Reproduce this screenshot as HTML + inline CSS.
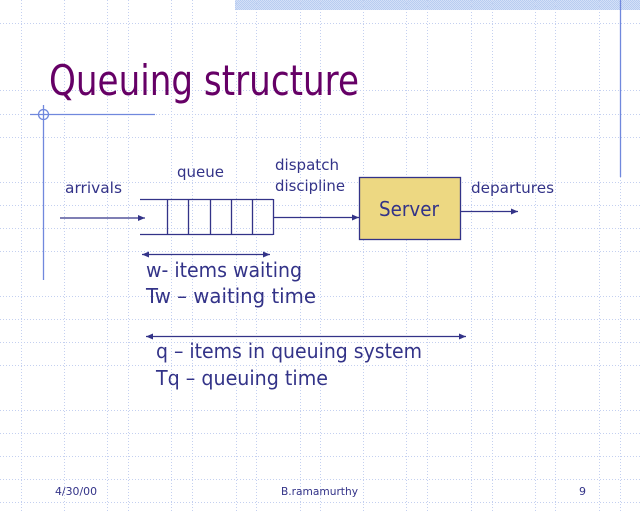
<!DOCTYPE html>
<html><head><meta charset="utf-8"><style>
html,body{margin:0;padding:0;background:#fff;}
svg{display:block;}
text{font-family:"DejaVu Sans","Liberation Sans",sans-serif;fill:#333388;}
</style></head><body>
<svg width="640" height="512" viewBox="0 0 640 512" xmlns="http://www.w3.org/2000/svg">
<defs>
<pattern id="chk" width="2" height="2" patternUnits="userSpaceOnUse">
<rect width="2" height="2" fill="#d4e0f8"/><rect width="1" height="1" fill="#b8cdf0"/><rect x="1" y="1" width="1" height="1" fill="#b8cdf0"/>
</pattern>
<marker id="ah" markerWidth="8" markerHeight="8" refX="7" refY="4" orient="auto" markerUnits="userSpaceOnUse">
<path d="M0,1 L7,4 L0,7 Z" fill="#333388"/></marker>
<marker id="as" markerWidth="8" markerHeight="8" refX="1" refY="4" orient="auto" markerUnits="userSpaceOnUse">
<path d="M8,1 L1,4 L8,7 Z" fill="#333388"/></marker>
</defs>
<rect x="235" y="0" width="405" height="10" fill="url(#chk)"/>
<g stroke="#c4d0f0" stroke-width="1" stroke-dasharray="1,2">
<line x1="21.5" y1="0" x2="21.5" y2="512"/><line x1="64.5" y1="0" x2="64.5" y2="512"/>
<line x1="107.5" y1="0" x2="107.5" y2="512"/><line x1="128.5" y1="0" x2="128.5" y2="512"/>
<line x1="171.5" y1="0" x2="171.5" y2="512"/><line x1="192.5" y1="0" x2="192.5" y2="512"/>
<line x1="236.5" y1="0" x2="236.5" y2="512"/><line x1="256.5" y1="0" x2="256.5" y2="512"/>
<line x1="300.5" y1="0" x2="300.5" y2="512"/><line x1="320.5" y1="0" x2="320.5" y2="512"/>
<line x1="363.5" y1="0" x2="363.5" y2="512"/><line x1="406.5" y1="0" x2="406.5" y2="512"/>
<line x1="427.5" y1="0" x2="427.5" y2="512"/><line x1="471.5" y1="0" x2="471.5" y2="512"/>
<line x1="492.5" y1="0" x2="492.5" y2="512"/><line x1="535.5" y1="0" x2="535.5" y2="512"/>
<line x1="555.5" y1="0" x2="555.5" y2="512"/><line x1="599.5" y1="0" x2="599.5" y2="512"/>
<line x1="620.5" y1="177" x2="620.5" y2="512"/>
<line x1="0" y1="23.5" x2="640" y2="23.5"/><line x1="0" y1="90.5" x2="640" y2="90.5"/>
<line x1="0" y1="114.5" x2="640" y2="114.5"/><line x1="0" y1="137.5" x2="640" y2="137.5"/>
<line x1="0" y1="182.5" x2="640" y2="182.5"/><line x1="0" y1="205.5" x2="640" y2="205.5"/>
<line x1="0" y1="228.5" x2="640" y2="228.5"/><line x1="0" y1="251.5" x2="640" y2="251.5"/>
<line x1="0" y1="296.5" x2="640" y2="296.5"/><line x1="0" y1="319.5" x2="640" y2="319.5"/>
<line x1="0" y1="342.5" x2="640" y2="342.5"/><line x1="0" y1="365.5" x2="640" y2="365.5"/>
<line x1="0" y1="410.5" x2="640" y2="410.5"/><line x1="0" y1="433.5" x2="640" y2="433.5"/>
<line x1="0" y1="456.5" x2="640" y2="456.5"/><line x1="0" y1="479.5" x2="640" y2="479.5"/>
<line x1="0" y1="502.5" x2="640" y2="502.5"/>
</g>
<g stroke="#7088dd" stroke-width="1.3" fill="none">
<line x1="620.5" y1="0" x2="620.5" y2="177"/>
<line x1="43.5" y1="105" x2="43.5" y2="280"/>
<line x1="30" y1="114.5" x2="155" y2="114.5"/>
<circle cx="43.5" cy="114.5" r="5"/>
</g>
<text x="49" y="95" font-size="42" textLength="310" lengthAdjust="spacingAndGlyphs" style="fill:#660066">Queuing structure</text>
<g stroke="#333388" stroke-width="1.3" fill="none">
<line x1="60" y1="218" x2="145" y2="218" marker-end="url(#ah)"/>
<line x1="140" y1="199.5" x2="273" y2="199.5"/>
<line x1="140" y1="234.5" x2="273" y2="234.5"/>
<line x1="167.5" y1="199" x2="167.5" y2="235"/><line x1="188.5" y1="199" x2="188.5" y2="235"/>
<line x1="210.5" y1="199" x2="210.5" y2="235"/><line x1="231.5" y1="199" x2="231.5" y2="235"/>
<line x1="252.5" y1="199" x2="252.5" y2="235"/><line x1="273.5" y1="199" x2="273.5" y2="235"/>
<line x1="273" y1="217.5" x2="359" y2="217.5" marker-end="url(#ah)"/>
<line x1="461" y1="211.5" x2="518" y2="211.5" marker-end="url(#ah)"/>
<line x1="142" y1="254.5" x2="270" y2="254.5" marker-start="url(#as)" marker-end="url(#ah)"/>
<line x1="146" y1="336.5" x2="466" y2="336.5" marker-start="url(#as)" marker-end="url(#ah)"/>
</g>
<rect x="359.5" y="177.5" width="101" height="62" fill="#edd882" stroke="#333388" stroke-width="1.3"/>
<text x="379" y="216" font-size="20" textLength="60" lengthAdjust="spacingAndGlyphs">Server</text>
<text x="65" y="193" font-size="15" textLength="57" lengthAdjust="spacingAndGlyphs">arrivals</text>
<text x="177" y="177" font-size="15" textLength="47" lengthAdjust="spacingAndGlyphs">queue</text>
<text x="275" y="170" font-size="15" textLength="64" lengthAdjust="spacingAndGlyphs">dispatch</text>
<text x="275" y="191" font-size="15" textLength="70" lengthAdjust="spacingAndGlyphs">discipline</text>
<text x="471" y="193" font-size="15" textLength="83" lengthAdjust="spacingAndGlyphs">departures</text>
<text x="146" y="277" font-size="20" textLength="156" lengthAdjust="spacingAndGlyphs">w- items waiting</text>
<text x="146" y="303" font-size="20" textLength="170" lengthAdjust="spacingAndGlyphs">Tw – waiting time</text>
<text x="156" y="358" font-size="20" textLength="266" lengthAdjust="spacingAndGlyphs">q – items in queuing system</text>
<text x="156" y="385" font-size="20" textLength="172" lengthAdjust="spacingAndGlyphs">Tq – queuing time</text>
<text x="55" y="495" font-size="11" textLength="42" lengthAdjust="spacingAndGlyphs">4/30/00</text>
<text x="281" y="495" font-size="11" textLength="77" lengthAdjust="spacingAndGlyphs">B.ramamurthy</text>
<text x="579" y="495" font-size="11">9</text>
</svg>
</body></html>
